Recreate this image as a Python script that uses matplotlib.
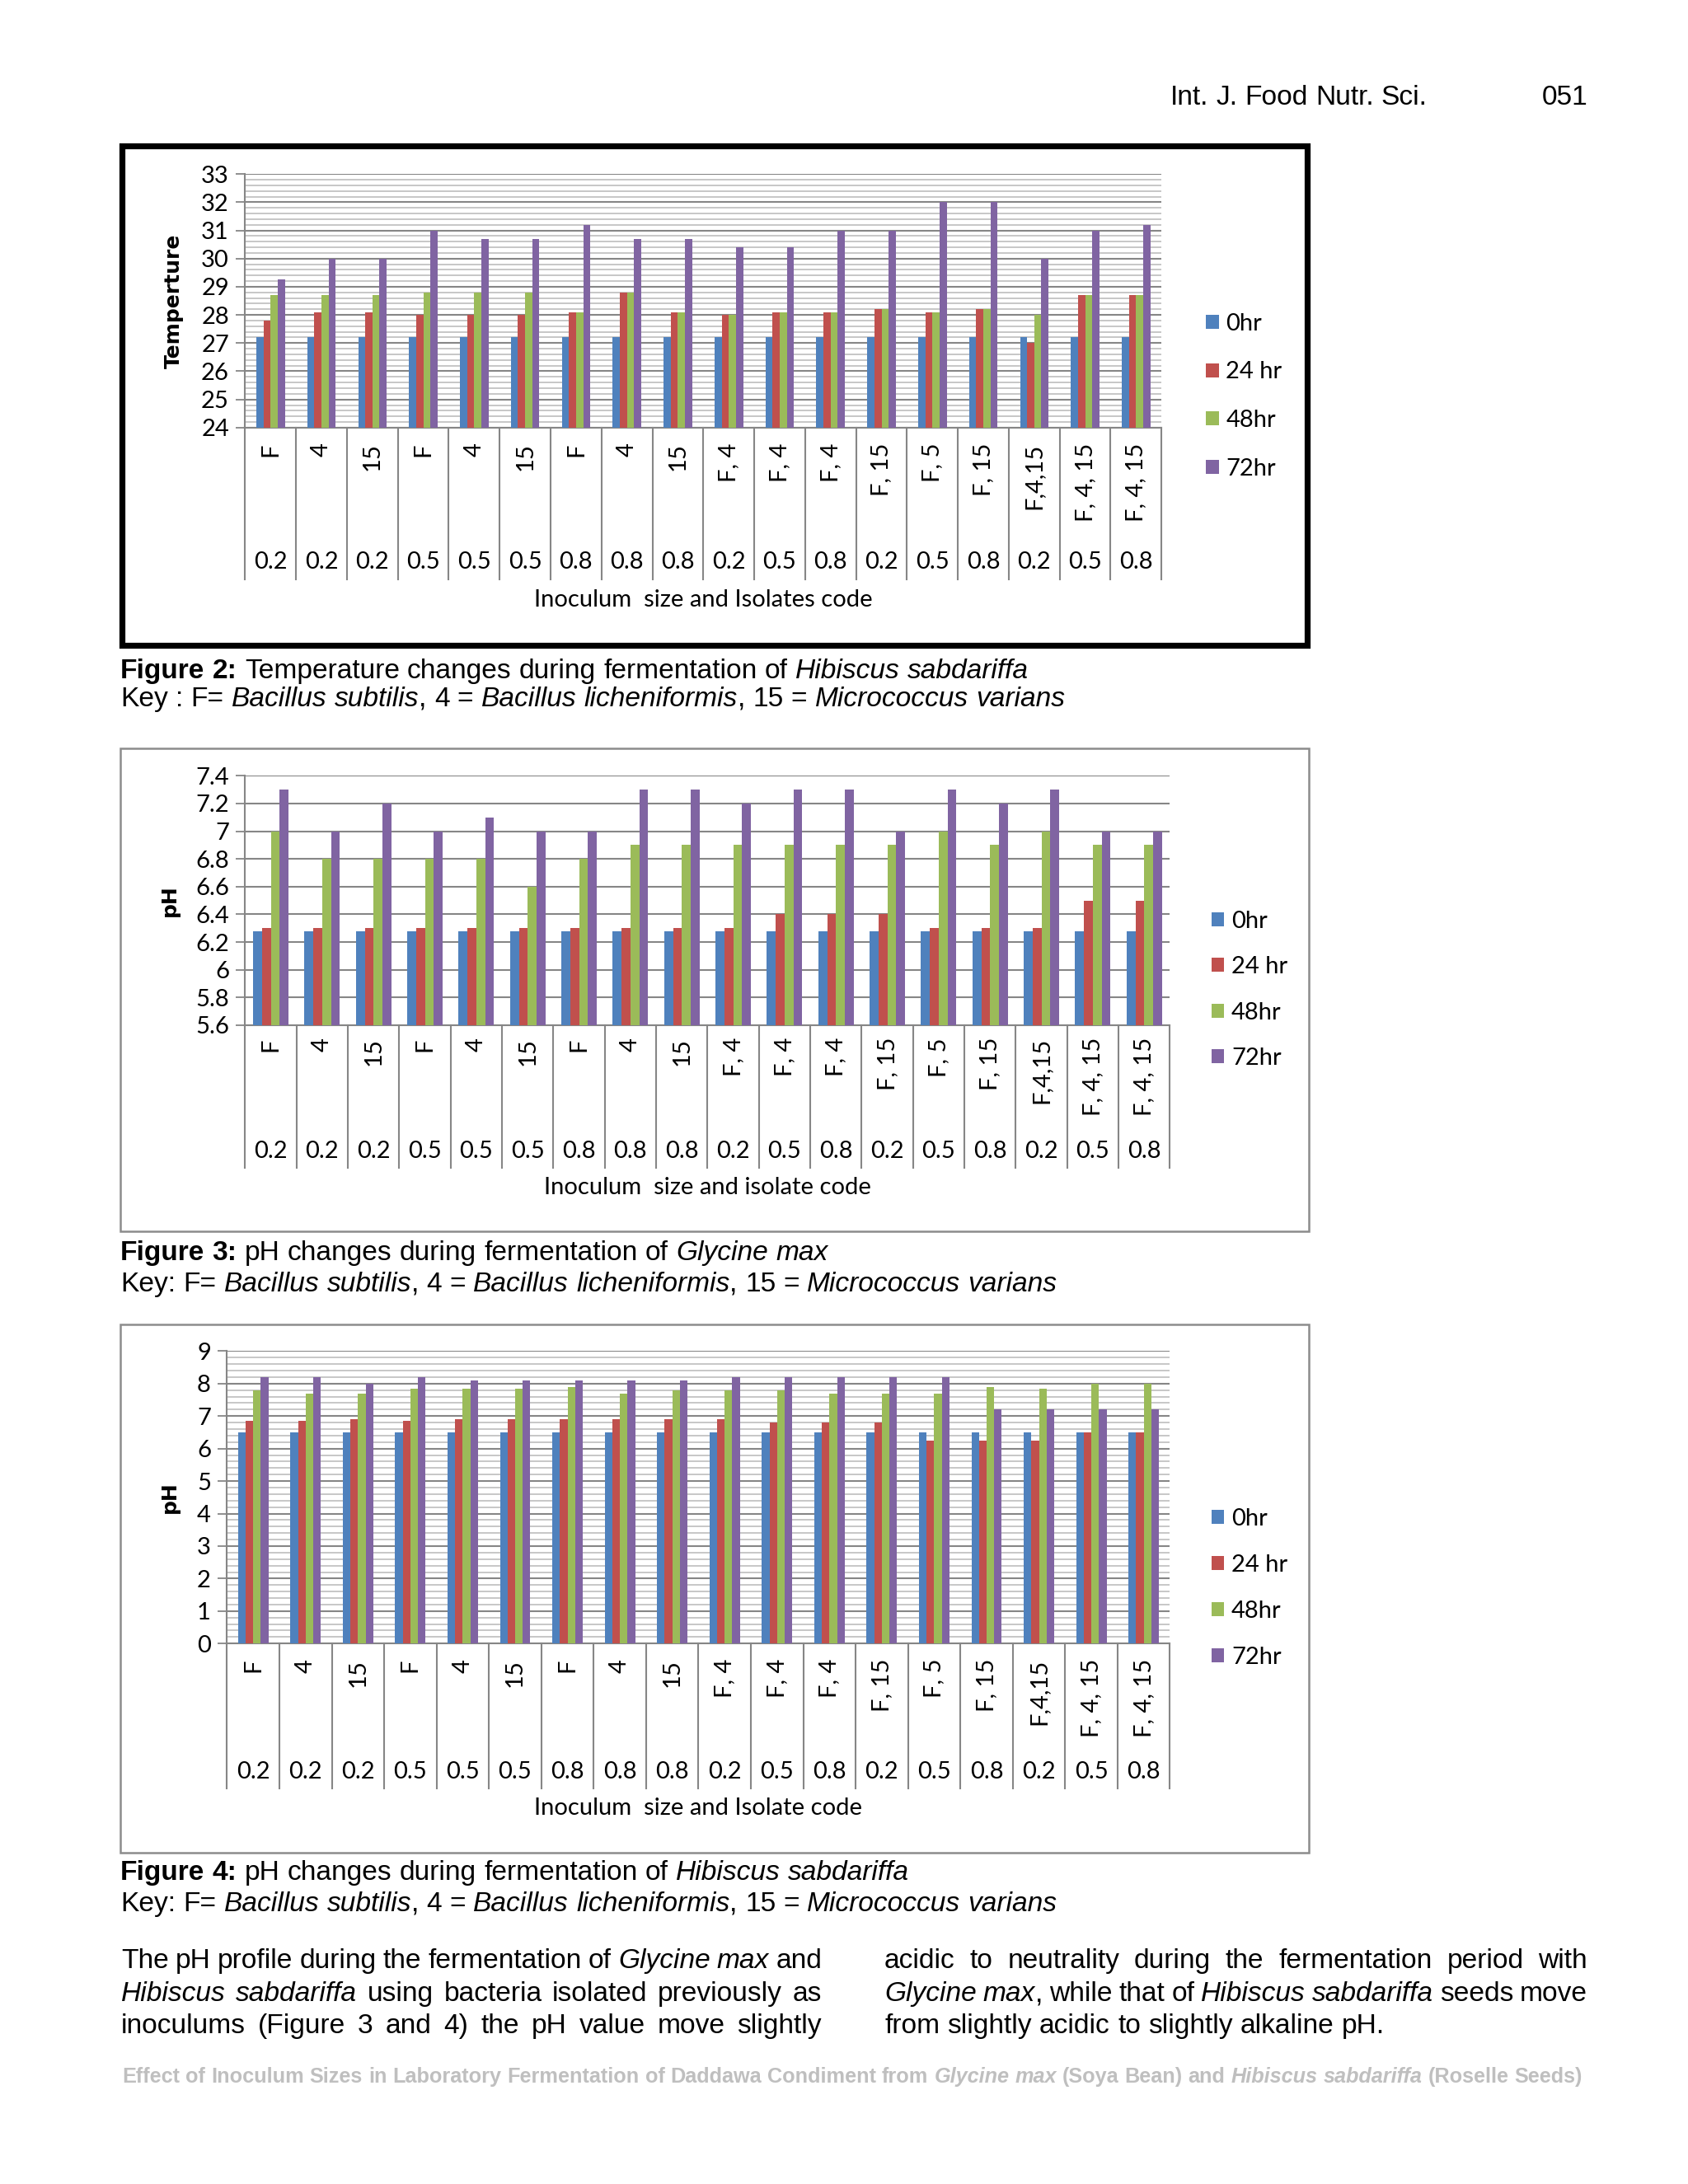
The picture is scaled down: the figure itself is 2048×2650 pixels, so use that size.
import numpy as np
import matplotlib
matplotlib.use("Agg")
import matplotlib.pyplot as plt
from matplotlib.patches import Rectangle
from matplotlib.ticker import MultipleLocator

# ---------------- data ----------------
series_names = ["0hr", "24 hr", "48hr", "72hr"]
isolate_codes = ["F", "4", "15", "F", "4", "15", "F", "4", "15",
                 "F, 4", "F, 4", "F, 4", "F, 15", "F, 5", "F, 15",
                 "F,4,15", "F, 4, 15", "F, 4, 15"]
inoculum_sizes = ["0.2", "0.2", "0.2", "0.5", "0.5", "0.5", "0.8", "0.8", "0.8",
                  "0.2", "0.5", "0.8", "0.2", "0.5", "0.8", "0.2", "0.5", "0.8"]

# Figure 2: temperature, Hibiscus sabdariffa
temp_0hr = [27.2, 27.2, 27.2, 27.2, 27.2, 27.2, 27.2, 27.2, 27.2,
            27.2, 27.2, 27.2, 27.2, 27.2, 27.2, 27.2, 27.2, 27.2]
temp_24hr = [27.8, 28.1, 28.1, 28.0, 28.0, 28.0, 28.1, 28.8, 28.1,
             28.0, 28.1, 28.1, 28.2, 28.1, 28.2, 27.0, 28.7, 28.7]
temp_48hr = [28.7, 28.7, 28.7, 28.8, 28.8, 28.8, 28.1, 28.8, 28.1,
             28.0, 28.1, 28.1, 28.2, 28.1, 28.2, 28.0, 28.7, 28.7]
temp_72hr = [29.25, 30.0, 30.0, 31.0, 30.7, 30.7, 31.2, 30.7, 30.7,
             30.4, 30.4, 31.0, 31.0, 32.0, 32.0, 30.0, 31.0, 31.2]
temp_ticks = [24, 25, 26, 27, 28, 29, 30, 31, 32, 33]
temp_ticklabels = ["24", "25", "26", "27", "28", "29", "30", "31", "32", "33"]

# Figure 3: pH, Glycine max
phg_0hr = [6.28, 6.28, 6.28, 6.28, 6.28, 6.28, 6.28, 6.28, 6.28,
           6.28, 6.28, 6.28, 6.28, 6.28, 6.28, 6.28, 6.28, 6.28]
phg_24hr = [6.3, 6.3, 6.3, 6.3, 6.3, 6.3, 6.3, 6.3, 6.3,
            6.3, 6.4, 6.4, 6.4, 6.3, 6.3, 6.3, 6.5, 6.5]
phg_48hr = [7.0, 6.8, 6.8, 6.8, 6.8, 6.6, 6.8, 6.9, 6.9,
            6.9, 6.9, 6.9, 6.9, 7.0, 6.9, 7.0, 6.9, 6.9]
phg_72hr = [7.3, 7.0, 7.2, 7.0, 7.1, 7.0, 7.0, 7.3, 7.3,
            7.2, 7.3, 7.3, 7.0, 7.3, 7.2, 7.3, 7.0, 7.0]
phg_ticks = [5.6, 5.8, 6.0, 6.2, 6.4, 6.6, 6.8, 7.0, 7.2, 7.4]
phg_ticklabels = ["5.6", "5.8", "6", "6.2", "6.4", "6.6", "6.8", "7", "7.2", "7.4"]

# Figure 4: pH, Hibiscus sabdariffa
phh_0hr = [6.5, 6.5, 6.5, 6.5, 6.5, 6.5, 6.5, 6.5, 6.5,
           6.5, 6.5, 6.5, 6.5, 6.5, 6.5, 6.5, 6.5, 6.5]
phh_24hr = [6.85, 6.85, 6.9, 6.85, 6.9, 6.9, 6.9, 6.9, 6.9,
            6.9, 6.8, 6.8, 6.8, 6.25, 6.25, 6.25, 6.5, 6.5]
phh_48hr = [7.8, 7.7, 7.7, 7.85, 7.85, 7.85, 7.9, 7.7, 7.8,
            7.8, 7.8, 7.7, 7.7, 7.7, 7.9, 7.85, 8.0, 8.0]
phh_72hr = [8.2, 8.2, 8.0, 8.2, 8.1, 8.1, 8.1, 8.1, 8.1,
            8.2, 8.2, 8.2, 8.2, 8.2, 7.2, 7.2, 7.2, 7.2]
phh_ticks = [0, 1, 2, 3, 4, 5, 6, 7, 8, 9]
phh_ticklabels = ["0", "1", "2", "3", "4", "5", "6", "7", "8", "9"]

# ---------------- style ----------------
colors = ["#4F81BD", "#C0504D", "#9BBB59", "#8064A2"]
CHART_FONT = "Lato"
CF = 21          # chart font size
BODY_FONT = "Liberation Sans"
GRID_MAJOR = "#868686"
GRID_MINOR = "#BDBDBD"

W, H = 2048, 2650
SW, SH = 1212.0, 1568.0
K = W / SW


def fx(x):
    return x / SW


def fy(y):
    return 1 - y / SH


fig = plt.figure(figsize=(W / 100, H / 100), dpi=100)
fig.patch.set_facecolor("white")


def make_chart(series, ticks, ticklabels, minor_step, top, bottom, left, right,
               bar_w, ylabel, ylabel_x, xlabel, cat_top, inoc_y, div_bottom,
               xlabel_y, legend_x, legend_rows, legend_spacing):
    ax = fig.add_axes([fx(left), fy(bottom), fx(right) - fx(left), fy(top) - fy(bottom)])
    n = len(isolate_codes)
    x = np.arange(n)
    handles = []
    for k, vals in enumerate(series):
        b = ax.bar(x + (k - 1.5) * bar_w, vals, bar_w, color=colors[k],
                   linewidth=0, zorder=3, label=series_names[k])
        handles.append(b)
    ax.set_xlim(-0.5, n - 0.5)
    ax.set_ylim(ticks[0], ticks[-1])
    ax.set_yticks(ticks)
    ax.set_yticklabels(ticklabels, fontfamily=CHART_FONT, fontsize=CF)
    ax.set_xticks([])
    if minor_step:
        ax.yaxis.set_minor_locator(MultipleLocator(minor_step))
        ax.grid(which="minor", axis="y", color=GRID_MINOR, lw=1.2, zorder=0)
    ax.grid(which="major", axis="y", color=GRID_MAJOR, lw=1.5, zorder=1)
    ax.set_axisbelow(True)
    ax.tick_params(axis="y", which="major", direction="out", length=8, width=1.3,
                   color=GRID_MAJOR, pad=6)
    ax.tick_params(axis="y", which="minor", length=0)
    for s in ["top", "right"]:
        ax.spines[s].set_visible(False)
    for s in ["left", "bottom"]:
        ax.spines[s].set_color(GRID_MAJOR)
        ax.spines[s].set_linewidth(1.5)

    h = bottom - top

    def ay(yy):
        return -(yy - bottom) / h

    tr = ax.get_xaxis_transform()
    for i in range(n + 1):
        ax.plot([i - 0.5, i - 0.5], [0, ay(div_bottom)], transform=tr,
                clip_on=False, color=GRID_MAJOR, lw=1.5)
    for i in range(n):
        ax.text(i, ay(cat_top), isolate_codes[i], rotation=90, ha="center", va="top",
                transform=tr, fontsize=CF, family=CHART_FONT)
        ax.text(i, ay(inoc_y), inoculum_sizes[i], ha="center", va="center",
                transform=tr, fontsize=CF, family=CHART_FONT)
    ax.text(0.5, ay(xlabel_y), xlabel, transform=ax.transAxes, ha="center",
            va="center", fontsize=CF, family=CHART_FONT)
    fig.text(fx(ylabel_x), fy((top + bottom) / 2), ylabel, rotation=90, ha="center",
             va="center", fontsize=18, fontweight="bold", family="DejaVu Sans")
    fig.legend(handles, series_names, loc="center left",
               bbox_to_anchor=(fx(legend_x), fy((legend_rows[0] + legend_rows[1]) / 2)),
               frameon=False, prop={"family": CHART_FONT, "size": CF},
               handlelength=0.52, handleheight=0.52, handletextpad=0.3,
               labelspacing=legend_spacing, borderpad=0, borderaxespad=0)
    return ax


# Figure 2
make_chart([temp_0hr, temp_24hr, temp_48hr, temp_72hr], temp_ticks, temp_ticklabels, 0.2,
           125, 307, 176, 834, 0.14, "Temperture", 125,
           "Inoculum  size and Isolates code", 318, 403.5, 416, 431,
           866, (232, 337), 1.12)
# Figure 3
make_chart([phg_0hr, phg_24hr, phg_48hr, phg_72hr], phg_ticks, phg_ticklabels, None,
           557, 736, 176, 840, 0.172, "pH", 122,
           "Inoculum  size and isolate code", 745, 826.5, 838.5, 852.5,
           870, (661, 760), 1.01)
# Figure 4
make_chart([phh_0hr, phh_24hr, phh_48hr, phh_72hr], phh_ticks, phh_ticklabels, 0.2,
           970, 1180, 163, 840, 0.145, "pH", 122,
           "Inoculum  size and Isolate code", 1191, 1272, 1284, 1298,
           870, (1090, 1190), 1.03)

# frames
fig.add_artist(Rectangle((fx(87.5), fy(463.5)), fx(938.5) - fx(87.5), fy(104.5) - fy(463.5),
                         transform=fig.transFigure, fill=False, ec="black", lw=5.2))
fig.add_artist(Rectangle((fx(86.5), fy(884)), fx(940) - fx(86.5), fy(537) - fy(884),
                         transform=fig.transFigure, fill=False, ec="#8C8C8C", lw=1.8))
fig.add_artist(Rectangle((fx(86.5), fy(1330)), fx(940) - fx(86.5), fy(951) - fy(1330),
                         transform=fig.transFigure, fill=False, ec="#8C8C8C", lw=1.8))

# ---------------- rich text helpers ----------------
fig.canvas.draw()
renderer = fig.canvas.get_renderer()


def measure(s, size, bold=False, italic=False):
    t = fig.text(0, 0, s, fontsize=size, fontweight="bold" if bold else "normal",
                 fontstyle="italic" if italic else "normal", family=BODY_FONT)
    w = t.get_window_extent(renderer=renderer).width
    t.remove()
    return w


def parse(line):
    words = []
    cur = []
    buf = []
    st = {"b": False, "i": False}

    def flush():
        if buf:
            cur.append(("".join(buf), st["b"], st["i"]))
            del buf[:]

    for ch in line:
        if ch == "|":
            flush()
            st["i"] = not st["i"]
        elif ch == "#":
            flush()
            st["b"] = not st["b"]
        elif ch == " ":
            flush()
            if cur:
                words.append(list(cur))
                del cur[:]
        else:
            buf.append(ch)
    flush()
    if cur:
        words.append(list(cur))
    return words


def line_width(line, size, force_bold=False):
    words = parse(line)
    tot = sum(measure(p, size, b or force_bold, i) for w in words for (p, b, i) in w)
    sp = measure("x x", size, force_bold) - measure("xx", size, force_bold)
    return tot + sp * (len(words) - 1)


def rich_line(x_px, y_center_shrunk, line, size, color="black", justify_px=None,
              force_bold=False):
    words = parse(line)
    widths = [[measure(p, size, b or force_bold, i) for (p, b, i) in w] for w in words]
    total = sum(sum(ws) for ws in widths)
    if justify_px is not None and len(words) > 1:
        gap = (justify_px - total) / (len(words) - 1)
    else:
        gap = measure("x x", size, force_bold) - measure("xx", size, force_bold)
    cap = size * 100 / 72 * 0.716
    yb = y_center_shrunk * K + cap / 2
    x = x_px
    for w, ws in zip(words, widths):
        for (p, b, i), pw in zip(w, ws):
            fig.text(x / W, 1 - yb / H, p, fontsize=size, color=color,
                     fontweight="bold" if (b or force_bold) else "normal",
                     fontstyle="italic" if i else "normal", family=BODY_FONT,
                     ha="left", va="baseline")
            x += pw
        x += gap


key_line = "Key : F= |Bacillus subtilis|, 4 = |Bacillus licheniformis|, 15 = |Micrococcus varians|"
body = 20 * 1142 / line_width(key_line, 20)

LX = 86.5 * K
# header
rich_line(840 * K, 68, "Int. J. Food Nutr. Sci.", body)
fig.text(1926 / W, 1 - (68 * K + body * 100 / 72 * 0.716 / 2) / H, "051", fontsize=body,
         family=BODY_FONT, ha="right", va="baseline")

# captions
rich_line(LX, 480, "#Figure 2:# Temperature changes during fermentation of |Hibiscus sabdariffa|", body)
rich_line(LX, 500, key_line, body)
rich_line(LX, 898, "#Figure 3:# pH changes during fermentation of |Glycine max|", body)
rich_line(LX, 920, "Key: F= |Bacillus subtilis|, 4 = |Bacillus licheniformis|, 15 = |Micrococcus varians|", body)
rich_line(LX, 1343, "#Figure 4:# pH changes during fermentation of |Hibiscus sabdariffa|", body)
rich_line(LX, 1365, "Key: F= |Bacillus subtilis|, 4 = |Bacillus licheniformis|, 15 = |Micrococcus varians|", body)

# paragraph
left_lines = ["The pH profile during the fermentation of |Glycine max| and",
              "|Hibiscus sabdariffa| using bacteria isolated previously as",
              "inoculums (Figure 3 and 4) the pH value move slightly"]
right_lines = ["acidic to neutrality during the fermentation period with",
               "|Glycine max|, while that of |Hibiscus sabdariffa| seeds move",
               "from slightly acidic to slightly alkaline pH."]
rows = [1406, 1430, 1453]
for r, t in zip(rows, left_lines):
    rich_line(147, r, t, body, justify_px=997 - 147)
for j, (r, t) in enumerate(zip(rows, right_lines)):
    rich_line(1073, r, t, body, justify_px=(1926 - 1073) if j < 2 else None)

# footer
foot = ("Effect of Inoculum Sizes in Laboratory Fermentation of Daddawa Condiment from "
        "|Glycine max| (Soya Bean) and |Hibiscus sabdariffa| (Roselle Seeds)")
fsize = 16 * (1923 - 148) / line_width(foot, 16, force_bold=True)
rich_line(148, 1490, foot, fsize, color="#BFBFBF", force_bold=True)

fig.savefig("out.png", dpi=100, facecolor="white")
